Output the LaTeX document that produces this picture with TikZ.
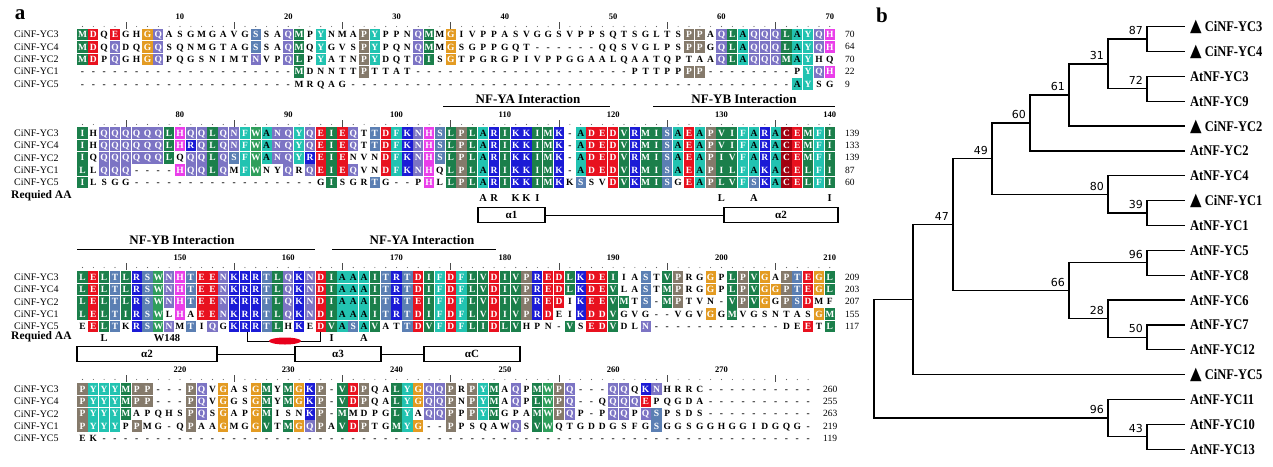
\documentclass[tikz,border=0pt]{standalone}
\usepackage{graphicx}
\usepackage{fontspec}
\setmainfont{Liberation Serif}
\newfontfamily\dejavu{DejaVu Sans}
\definecolor{cg}{HTML}{1B7F4B}
\definecolor{cG}{HTML}{2E9E5B}
\definecolor{cr}{HTML}{E8111F}
\definecolor{co}{HTML}{E39B22}
\definecolor{cp}{HTML}{7C74C4}
\definecolor{cb}{HTML}{5B7FB3}
\definecolor{ct}{HTML}{22C3B1}
\definecolor{ck}{HTML}{857A6B}
\definecolor{cm}{HTML}{EA3EEA}
\definecolor{cB}{HTML}{1B1BD6}
\definecolor{cd}{HTML}{A0000F}
\definecolor{oval}{HTML}{E8001C}
\newcommand\tri{{\dejavu\fontsize{15}{15}\selectfont ▲}\hspace{3pt}}
\newcommand\tall[1]{\scalebox{1}[1.18]{#1}}
% one alignment row: name, y, residues, colour codes
\newcount\rescol
\def\seqrow#1#2#3#4{\def\rowname{#1}\def\rowy{#2}\rescol=1 \seqstep#3\relax#4\relax}
\def\seqstep#1#2\relax#3#4\relax{%
  \node[res,aa#3] (\rowname-\the\rescol) at ({82.5+10.83*(\the\rescol-1)},\rowy) {#1};%
  \advance\rescol by 1
  \ifx\relax#2\relax\else\seqstep#2\relax#4\relax\fi}
% ruler: y, offset, columns
\newcommand\ruler[3]{%
  \foreach \i in {1,...,#3}{
    \pgfmathtruncatemacro\rmod{mod(\i,10)}
    \pgfmathtruncatemacro\rnum{\i+#2}
    \ifnum\rmod=0 \node[rulenum] (num\rnum) at ({82.5+10.83*(\i-1)},#1) {\rnum};\fi
    \ifnum\rmod=5 \draw[rulemark] ({82.5+10.83*(\i-1)},#1+5) -- ++(0,7);
    \else \fill[black!60] ({82.5+10.83*(\i-1)},#1+9.5) circle (0.55);\fi
  }}
\begin{document}
\begin{tikzpicture}[x=1pt, y=-1pt,
  res/.style={inner sep=0pt, minimum width=10.2pt, minimum height=11.6pt, text height=6.3pt, text depth=0pt, font=\bfseries\fontsize{9.5}{10}\selectfont},
  aag/.style={fill=cg, text=white}, aaG/.style={fill=cG, text=white},
  aar/.style={fill=cr, text=white}, aao/.style={fill=co, text=white},
  aap/.style={fill=cp, text=white}, aab/.style={fill=cb, text=white},
  aat/.style={fill=ct, text=white}, aaa/.style={fill=ct, text=black},
  aak/.style={fill=ck, text=white}, aam/.style={fill=cm, text=white},
  aaB/.style={fill=cB, text=white}, aad/.style={fill=cd, text=white},
  aaw/.style={text=black},
  seqname/.style={anchor=west, inner sep=0pt, font=\fontsize{10}{11}\selectfont},
  seqend/.style={anchor=west, inner sep=0pt, font=\fontsize{9.5}{10}\selectfont},
  rulenum/.style={inner sep=0pt, font=\bfseries\fontsize{8.5}{9}\selectfont},
  rulemark/.style={line width=0.5pt, black!70},
  iact/.style={inner sep=0pt, font=\bfseries\fontsize{13}{14}\selectfont},
  iline/.style={line width=1pt},
  reqlabel/.style={anchor=west, inner sep=0pt, font=\bfseries\fontsize{11.5}{12}\selectfont},
  reqaa/.style={inner sep=0pt, font=\bfseries\fontsize{10.5}{11}\selectfont},
  helix/.style={draw, line width=1.8pt, minimum height=15pt, inner sep=0pt, font=\bfseries\fontsize{11}{12}\selectfont},
  helixlink/.style={line width=1pt},
  panel/.style={inner sep=0pt, font=\bfseries\fontsize{21}{22}\selectfont},
  leaf/.style={anchor=west, inner xsep=5pt, inner ysep=0pt, text height=10pt, text depth=0pt, font=\bfseries\fontsize{12.5}{13}\selectfont},
  boot/.style={anchor=south east, inner sep=0pt, xshift=-4pt, yshift=4pt, font=\dejavu\fontsize{11}{12}\selectfont},
  branch/.style={line width=1.3pt}]
\fill[white] (0,0) rectangle (1273,466);
\useasboundingbox (0,0) rectangle (1273,466);

% (a) alignment
\node[panel] (pa) at (20,15) {a};

% block 1
\ruler{17}{0}{70}
\foreach \nm/\n [count=\r from 0] in {CiNF-YC3/70,CiNF-YC4/64,CiNF-YC2/70,CiNF-YC1/22,CiNF-YC5/9}{
  \node[seqname] (bA\r) at (14,34.5+12.4*\r) {\nm};
  \node[seqend] (eA\r) at (845,34.5+12.4*\r) {\n};}
\seqrow{b1r1}{34.5}{MDQEGHGQAS GMGAVGSSAQ MPYNMAPYPP NQMMGIVPPA SVGGSVPPSQ TSGLTSPPAQ LAQQQLAYQH}{grwrwwopww wwwwwwbwwp gwtwwwktww wpgwowwwww wwwwwwwwww wwwwwwkkwp gapppgatpm}
\seqrow{b1r2}{46.9}{MDQQDQGQSQ NMGTAGSSAQ MQYGVSPYPQ NQMMGSGPPG QT------QQ SVGLPSPPGQ LAQQQLAYQH}{grwpwwopww wwwwwwbwwp gwtwwwktww wpgwowwwww wwwwwwwwww wwwwwwkkwp gapppgatpm}
\seqrow{b1r3}{59.3}{MDPQGHGQPQ GSNIMTNVPQ LPYATNPYDQ TQISGTPGRG PIVPPGGAAL QAATQPTAAQ LAQQQMAYHQ}{grwpwwopww wwwwwwpwwp gwtwwwktww wpgwowwwww wwwwwwwwww wwwwwwwwwp gapppgatww}
\seqrow{b1r4}{71.7}{---------- ---------- MDNNTTPTTA T--------- ---------- -PTTPPPP-- ------PYQH}{wwwwwwwwww wwwwwwwwww gwwwwwkwww wwwwwwwwww wwwwwwwwww wwwwwwkkww wwwwwwwtpm}
\seqrow{b1r5}{84.1}{---------- ---------- MRQAG----- ---------- ---------- ---------- ------AYSG}{wwwwwwwwww wwwwwwwwww wwwwwwwwww wwwwwwwwww wwwwwwwwww wwwwwwwwww wwwwwwatww}

% block 2
\node[iact] (ya1) at (528,99) {NF-YA Interaction};
\draw[iline] (443,106) -- (610,106);
\node[iact] (yb1) at (744,99) {NF-YB Interaction};
\draw[iline] (653,106) -- (835,106);
\ruler{115}{70}{70}
\foreach \nm/\n [count=\r from 0] in {CiNF-YC3/139,CiNF-YC4/133,CiNF-YC2/139,CiNF-YC1/87,CiNF-YC5/60}{
  \node[seqname] (bB\r) at (14,133+12.4*\r) {\nm};
  \node[seqend] (eB\r) at (845,133+12.4*\r) {\n};}
\seqrow{b2r1}{133}{IHQQQQQQLH QQLQNFWANQ YQEIEQTTDF KNHSLPLARI KKIMK-ADED VRMISAEAPV IFARACEMFI}{gwppppppgm ppgpptGapp tprgrpwbrt BpmbgkgaBg BBggBwarrr gBggbarakg gtaBadrgtg}
\seqrow{b2r2}{145.4}{IHQQQQQQLH RQLQNFWANQ YQEIEQTTDF KNHSLPLARI KKIMK-ADED VRMISAEAPV IFARACEMFI}{gwppppppgm BpgpptGapp tprgrpwbrt BpmbgkgaBg BBggBwarrr gBggbarakg gtaBadrgtg}
\seqrow{b2r3}{157.8}{IQQQQQQQLQ QQLQSFWANQ YREIENVNDF KNHSLPLARI KKIMK-ADED VRMISAEAPI VFARACEMFI}{gwppppppgw ppgpbtGapp tBrgrwwwrt BpmbgkgaBg BBggBwarrr gBggbarakg gtaBadrgtg}
\seqrow{b2r4}{170.2}{LLQQQ----H QQLQMFWNYQ RQEIEQVNDF KNHQLPLARI KKIMK-ADED VRMISAEAPI LFAKACELFI}{gwpppwwwwm ppgpwtGwwp wprgrpwwrt BpmwgkgaBg BBggBwarrr gBggbarakg gtaBadrgtg}
\seqrow{b2r5}{182.6}{ILSGG----- ---------- --GISGRTG- -PHLLPLARI KKIMKKSSVD VKMISGEAPL VFSKACELFI}{gwwwwwwwww wwwwwwwwww wwwgwwwbww wwmwgkgaBg BBggBwbwwr gBggbwrakg gtbBadrgtg}
\node[reqlabel] (rq1) at (11,196) {Requied AA};
\foreach \c/\aa [count=\k] in {38/A,39/R,41/K,42/K,43/I,60/L,63/A,70/I}
  \node[reqaa] (ra\k) at ({82.5+10.83*(\c-1)},198) {\aa};
\node[helix, minimum width=67pt] (h1) at (511.5,215) {α1};
\node[helix, minimum width=114pt] (h2) at (781,215) {α2};
\draw[helixlink] (h1) -- (h2);

% block 3
\node[iact] (yb2) at (182,240) {NF-YB Interaction};
\draw[iline] (77,249) -- (315,249);
\node[iact] (ya2) at (422,240) {NF-YA Interaction};
\draw[iline] (332,249) -- (496,249);
\ruler{258}{140}{70}
\foreach \nm/\n [count=\r from 0] in {CiNF-YC3/209,CiNF-YC4/203,CiNF-YC2/207,CiNF-YC1/155,CiNF-YC5/117}{
  \node[seqname] (bC\r) at (14,277+12.4*\r) {\nm};
  \node[seqend] (eC\r) at (845,277+12.4*\r) {\n};}
\seqrow{b3r1}{277}{LELTLRSWNH TEENKRRTLQ KNDIAAAITR TDIFDFLVDI VPREDLKDEI IASTVPRGGP LPVGAPTEGL}{grgbgBbGpm brrpBBBbgp BprgaaagbB brgtrtggrg gkBrrgBrrg wwbwgkwwow gkgowkbrog}
\seqrow{b3r2}{289.4}{LELTLRSWNH TEENKRRTLQ KNDIAAAITR TDIFDFLVDI VPREDLKDEV LASTMPRGGP LPVGGPTEGL}{grgbgBbGpm brrpBBBbgp BprgaaagbB brgtrtggrg gkBrrgBrrg wwbwgkwwow gkgookbrog}
\seqrow{b3r3}{301.8}{LELTLRSWNH TEENKRRTLQ KNDIAAAITR TEIFDFLVDI VPREDIKEEV MTS-MPTVN- VPVGGPSDMF}{grgbgBbGpm brrpBBBbgp BprgaaagbB brgtrtggrg gkBrrwBrrg gwbwgkwwww gkgowkbrww}
\seqrow{b3r4}{314.2}{LELTIRSWLH AEENKRRTLQ KNDIAAAITR TDIFDFLVDI VPRDEIKDDV GVG--VGVGG MVGSNTASGM}{grgbgBbGwm wrrpBBBbgp BprgaaagbB brgtrtggrg gkBrwwBrrg wwwwwwwwow gwwwwwwwog}
\seqrow{b3r5}{326.6}{EELTKRSWNM TIQGKRRTLH KEDVASAVAT TDVFDFLIDL VHPN-VSEDV DLN------- -----DEETL}{wrgbwBbGpw bwpwBBBbgw Bwrgabagww brgtrtggrg gwwwwgwrrg wwpwwwwwww wwwwwwwrwg}
\node[reqlabel] (rq2) at (11,337) {Requied AA};
\node[reqaa] (rb1) at (104.2,338) {L};
\node[reqaa] (rb2) at (167,338) {W148};
\node[reqaa] (rb3) at (331.6,338) {I};
\node[reqaa] (rb4) at (364,338) {A};
\draw[line width=0.8pt] (247,332) |- (320,341) -- (320,332);
\fill[oval] (285,341) ellipse (16 and 3.5);
\node[helix, minimum width=140pt] (h3) at (147,354) {α2};
\node[helix, minimum width=86pt] (h4) at (338,354) {α3};
\node[helix, minimum width=96pt] (h5) at (472,354) {αC};
\draw[helixlink] (h3) -- (h4);
\draw[helixlink] (h4) -- (h5);

% block 4
\ruler{370}{210}{68}
\foreach \nm/\n [count=\r from 0] in {CiNF-YC3/260,CiNF-YC4/255,CiNF-YC2/263,CiNF-YC1/219,CiNF-YC5/119}{
  \node[seqname] (bD\r) at (14,389+12.4*\r) {\nm};
  \node[seqend] (eD\r) at (823,389+12.4*\r) {\n};}
\seqrow{b4r1}{389}{PYYYMPP--- PQVGASGMYM GKP-VDPQAL YGQQPRPYMA QPMWPQ---Q QQKNHRRC-- --------}{ktttgkkwww kpwowwogwg oBkwgrkwwg toppkwktgw pwgGkpwwwp pwBpwwwwww wwwwwwww}
\seqrow{b4r2}{401.4}{PYYYMPP--- PQVGGSGMYM GKP-VDPQAL YGQQPNPYMA QPLWPQ--QQ QQEPQGDA-- --------}{ktttgkkwww kpwowwogwg oBkwgrkwwg toppkwktgw pwgGkpwwwp pprwwwwwww wwwwwwww}
\seqrow{b4r3}{413.8}{PYYYMAPQHS PQSGAPGMIS NKP-MMDPGL YAQQPPPYMG PAMWPQP-PQ QPQSPSDS-- --------}{ktttgwwwww kpwowwogww wBkwgwwwwg twppkwktgw wwgGkpwwwp pwpbwwwwww wwwwwwww}
\seqrow{b4r4}{426.2}{PYYYPPMG-Q PAAGMGGVTM GQPAVDPTGM YG--PPSQAW QSVWQTGDDG SFGSGGSGGH GGIDGQG-}{ktttwkwwww kwwowwogwg opkwgrkwwg towwkwwwww pwgGwwwwww wwwbwwwwww wwwwwwww}
\seqrow{b4r5}{438.6}{EK-------- ---------- ---------- ---------- ---------- ---------- --------}{wwwwwwwwww wwwwwwwwww wwwwwwwwww wwwwwwwwww wwwwwwwwww wwwwwwwwww wwwwwwww}

% (b) tree
\node[panel] (pb) at (882,15) {b};
\foreach \nm [count=\k] in {\tri CiNF-YC3,\tri CiNF-YC4,AtNF-YC3,AtNF-YC9,\tri CiNF-YC2,AtNF-YC2,AtNF-YC4,\tri CiNF-YC1,AtNF-YC1,AtNF-YC5,AtNF-YC8,AtNF-YC6,AtNF-YC7,AtNF-YC12,\tri CiNF-YC5,AtNF-YC11,AtNF-YC10,AtNF-YC13}
  \node[leaf] (l\k) at (1185,{1.85+24.85*\k}) {\tall{\nm}};
\coordinate (n87) at (1147,39.1);
\coordinate (n72) at (1147,88.8);
\coordinate (n31) at (1108,64);
\coordinate (n61) at (1069,95);
\coordinate (n60) at (1030,123);
\coordinate (n39) at (1147,213.1);
\coordinate (n80) at (1108,194.4);
\coordinate (n49) at (992,158.7);
\coordinate (n96a) at (1147,262.8);
\coordinate (n50) at (1147,337.3);
\coordinate (n28) at (1108,318.7);
\coordinate (n66) at (1069,290.7);
\coordinate (n47) at (953,224.7);
\coordinate (nA) at (913,299.7);
\coordinate (n43) at (1147,436.7);
\coordinate (n96b) at (1108,418.1);
\coordinate (root) at (874,358.9);
\foreach \p/\c in {n87/l1.west,n87/l2.west,n72/l3.west,n72/l4.west,n31/n87,n31/n72,
  n61/n31,n61/l5.west,n60/n61,n60/l6.west,n39/l8.west,n39/l9.west,n80/l7.west,n80/n39,
  n49/n60,n49/n80,n96a/l10.west,n96a/l11.west,n50/l13.west,n50/l14.west,n28/l12.west,
  n28/n50,n66/n96a,n66/n28,n47/n49,n47/n66,nA/n47,nA/l15.west,n43/l17.west,n43/l18.west,
  n96b/l16.west,n96b/n43,root/nA,root/n96b}
  \draw[branch] (\p) |- (\c);
\foreach \p/\v [count=\k] in {n87/87,n72/72,n31/31,n61/61,n60/60,n80/80,n39/39,n49/49,
  n47/47,n96a/96,n66/66,n28/28,n50/50,n96b/96,n43/43}
  \node[boot] (bs\k) at (\p) {\v};
\end{tikzpicture}
\end{document}
